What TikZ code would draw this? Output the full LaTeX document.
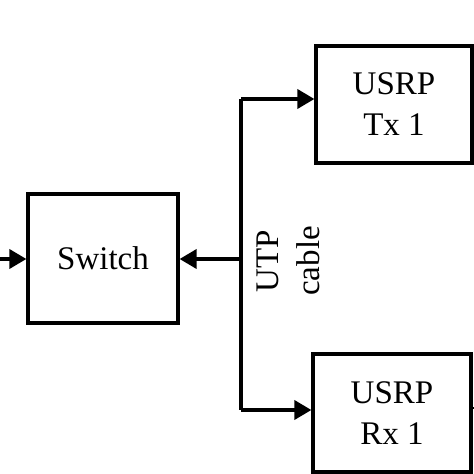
\documentclass[tikz,border=0pt]{standalone}
\usepackage{fontspec}
\setmainfont{Liberation Serif}
\usepackage{tikz}
\usetikzlibrary{arrows.meta,positioning,calc}

\begin{document}
\begin{tikzpicture}[x=1pt,y=1pt,font=\fontsize{33}{41}\selectfont,
  blockbox/.style={draw,line width=3.2pt,inner sep=0pt,align=center},
  conn/.style={line width=3.6pt,-{Triangle[length=17pt,width=19pt]}}]
\useasboundingbox (0,0) rectangle (474,474);
\node[blockbox,minimum width=150pt,minimum height=129pt] (switch) at (103,215.5) {Switch};
\node[blockbox,minimum width=156pt,minimum height=117pt] (usrptx) at (394,369.5) {USRP\\Tx 1};
\node[blockbox,minimum width=158pt,minimum height=118pt] (usrprx) at (392,61) {USRP\\Rx 1};
\coordinate (bustop) at (241,375);   % branch to Tx
\coordinate (busmid) at (241,215);   % branch to switch
\coordinate (busbot) at (241,64);    % branch to Rx
\coordinate (feed) at (0,215);
\coordinate (stub) at (474,66);
\draw[line width=3.6pt] (bustop) -- (busbot);
\draw[conn] (bustop) -- (bustop -| usrptx.west);
\draw[conn] (busbot) -- (busbot -| usrprx.west);
\draw[conn] (busmid) -- (switch.east |- busmid);
\draw[conn] (feed) -- (switch.west |- feed);
\draw[line width=1.5pt] (usrprx.east |- stub) -- (stub);
\node[rotate=90,align=center] (utp) at (288.5,213) {UTP\\cable};
\end{tikzpicture}
\end{document}
